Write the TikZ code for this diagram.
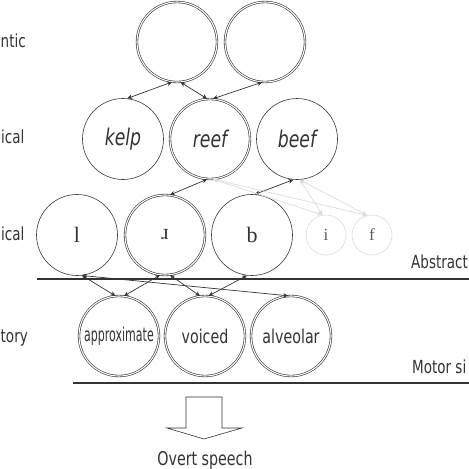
\documentclass[tikz,border=0pt]{standalone}
\usepackage{fontspec}
\usepackage{xcolor}
\usepackage{tikz}
\usetikzlibrary{arrows.meta}
\newfontfamily\labelfont[FakeStretch=0.75]{DejaVu Sans}
\newfontfamily\narrowfont[FakeStretch=0.58]{DejaVu Sans}
\newfontfamily\phonfont{Liberation Serif}
\definecolor{ink}{gray}{0.2}
\definecolor{faded}{gray}{0.86}
\tikzset{>={Stealth[length=5pt,width=4.5pt]}}
\newcommand{\lab}{\fontsize{19}{22}\selectfont\labelfont}
\newcommand{\side}{\fontsize{18}{21}\selectfont\labelfont}
\newcommand{\lex}{\fontsize{23}{26}\selectfont\labelfont\itshape}
\newcommand{\phon}{\fontsize{22}{24}\selectfont\phonfont}
\newcommand{\smallphon}{\fontsize{17}{19}\selectfont\phonfont}

\begin{document}
\begin{tikzpicture}[x=1pt,y=-1pt,
              unit/.style={circle, draw=ink, line width=0.6pt, minimum size=81pt, inner sep=0pt, text=ink},
              active/.style={unit, double, double distance=1.1pt, minimum size=80pt},
              ghost/.style={circle, draw=faded, line width=0.6pt, minimum size=40pt, inner sep=0pt, text=ink!80, font=\smallphon},
              link/.style={<->, draw=ink, line width=0.7pt},
              faint/.style={<->, draw=faded, line width=0.7pt},
              level/.style={text=ink, inner sep=0pt, font=\side},
              border/.style={draw=ink, line width=1.6pt},
             ]

\useasboundingbox (0,0) rectangle (469,469);

% layer names
\node[level, anchor=base west] (semlab) at (0.5,47) {ntic};
\node[level, anchor=base west] (lexlab) at (1,143.5) {ical};
\node[level, anchor=base west] (phonlab) at (1,240) {ical};
\node[level, anchor=base west] (artlab) at (0.5,342) {tory};
\node[level, anchor=base west] (abslab) at (411,268) {Abstract};
\node[level, anchor=base west] (motlab) at (412,373) {Motor si};

% separators
\coordinate (absL) at (37,279);
\coordinate (absR) at (469,279);
\coordinate (motL) at (73,383);
\coordinate (motR) at (469,383);
\draw[border] (absL) -- (absR);
\draw[draw=ink, line width=1.1pt] (motL) -- (motR);

% semantic
\node[active] (sem1) at (177,42) {};
\node[active] (sem2) at (265,42) {};

% lexical
\node[unit, font=\lex] (kelp) at (123,139) {kelp};
\node[active, font=\lex] (reef) at (210,139) {reef};
\node[unit, font=\lex] (beef) at (297,139) {beef};

% phonological
\node[unit, font=\phon] (l) at (77,235) {l};
\node[active, font=\phon] (r) at (165,235) {ɹ};
\node[unit, font=\phon] (b) at (252,235) {b};
\node[ghost] (i) at (326,235) {i};
\node[ghost] (f) at (372,235) {f};

% articulatory
\node[active, font={\narrowfont\fontsize{19}{22}\selectfont}] (approx) at (119,336) {approximate};
\node[active, font=\lab] (voiced) at (205,336) {voiced};
\node[active, font=\lab] (alveolar) at (291,336) {alveolar};

\draw[link] (sem1.-97) -- (kelp.84);
\draw[link] (sem1.-85) -- (reef.94);
\draw[link] (sem2.-94) -- (reef.86);
\draw[link] (reef.-94) -- (r.83);
\draw[link] (beef.-95) -- (b.86);
\draw[faint] (reef.-86) -- (i.100);
\draw[faint] (reef.-86) -- (f.104);
\draw[faint] (beef.-86) -- (i.100);
\draw[faint] (beef.-86) -- (f.104);
\draw[link] (l.-83) -- (approx.95);
\draw[link] (l.-83) -- (alveolar.94);
\draw[link] (r.-97) -- (approx.83);
\draw[link] (r.-83) -- (voiced.97);
\draw[link] (b.-97) -- (voiced.85);

% output
\draw[draw=ink, line width=0.6pt, fill=white] (186,397) -- (222,397) -- (222,428) -- (242,428) -- (204,439) -- (167,428) -- (186,428) -- cycle;
\node[level, font=\lab, anchor=base] (speech) at (205,465) {Overt speech};
\end{tikzpicture}
\end{document}
